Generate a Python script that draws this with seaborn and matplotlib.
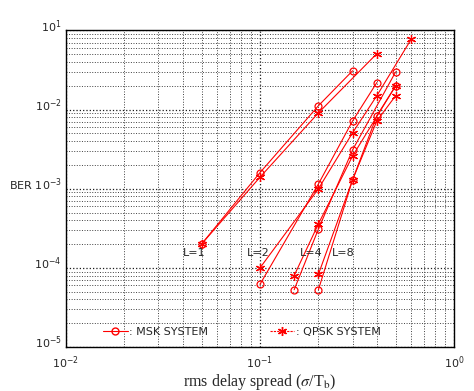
import numpy as np
import pandas as pd
import matplotlib
matplotlib.use("Agg")
import matplotlib.pyplot as plt
import matplotlib.transforms as mtransforms
from matplotlib.lines import Line2D
import seaborn as sns

# rms delay spread values and BER per curve
msk_L1_x = [0.05, 0.1, 0.2, 0.3]
msk_L1_y = [2.0e-4, 1.6e-3, 1.12e-2, 3.1e-2]
qpsk_L1_x = [0.05, 0.1, 0.2, 0.4]
qpsk_L1_y = [2.0e-4, 1.4e-3, 9.1e-3, 5.1e-2]

msk_L2_x = [0.1, 0.2, 0.3, 0.4]
msk_L2_y = [6.2e-5, 1.15e-3, 7.2e-3, 2.2e-2]
qpsk_L2_x = [0.1, 0.2, 0.3, 0.4, 0.6]
qpsk_L2_y = [1.0e-4, 1.0e-3, 5.1e-3, 1.5e-2, 7.7e-2]

msk_L4_x = [0.15, 0.2, 0.3, 0.5]
msk_L4_y = [5.3e-5, 3.1e-4, 3.1e-3, 3.0e-2]
qpsk_L4_x = [0.15, 0.2, 0.3, 0.5]
qpsk_L4_y = [8.0e-5, 3.6e-4, 2.6e-3, 2.0e-2]

msk_L8_x = [0.2, 0.3, 0.4, 0.5]
msk_L8_y = [5.3e-5, 1.3e-3, 8.4e-3, 2.0e-2]
qpsk_L8_x = [0.2, 0.3, 0.4, 0.5]
qpsk_L8_y = [8.3e-5, 1.3e-3, 7.2e-3, 1.5e-2]

curve_labels = ["L=1", "L=2", "L=4", "L=8"]
label_x = [0.046, 0.098, 0.183, 0.268]
label_y = [1.55e-4, 1.55e-4, 1.55e-4, 1.55e-4]

xtick_vals = [1e-2, 1e-1, 1e0]
xtick_text = [r"$10^{-2}$", r"$10^{-1}$", r"$10^{0}$"]
ytick_vals = [1e-5, 1e-4, 1e-3, 1e-2, 1e-1]
ytick_text = [r"$10^{-5}$", r"$10^{-4}$", r"BER $10^{-3}$", r"$10^{-2}$", r"$10^{1}$"]

rows = []
for name, sysname, xs, ys in [
    ("msk1", "MSK", msk_L1_x, msk_L1_y), ("qpsk1", "QPSK", qpsk_L1_x, qpsk_L1_y),
    ("msk2", "MSK", msk_L2_x, msk_L2_y), ("qpsk2", "QPSK", qpsk_L2_x, qpsk_L2_y),
    ("msk4", "MSK", msk_L4_x, msk_L4_y), ("qpsk4", "QPSK", qpsk_L4_x, qpsk_L4_y),
    ("msk8", "MSK", msk_L8_x, msk_L8_y), ("qpsk8", "QPSK", qpsk_L8_x, qpsk_L8_y),
]:
    for xv, yv in zip(xs, ys):
        rows.append({"curve": name, "system": sysname, "x": xv, "ber": yv})
df = pd.DataFrame(rows)

sns.set_style("white")
plt.rcParams['font.family'] = ['DejaVu Sans']
plt.rcParams['mathtext.fontset'] = 'dejavusans'

fig = plt.figure(figsize=(4.74, 3.91), dpi=100)
ax = fig.add_axes([0.139, 0.1125, 0.819, 0.8095])

star = (6, 2, 0)
for sysname, mk, ms in [("MSK", "o", 5), ("QPSK", star, 6.5)]:
    sub = df[df["system"] == sysname]
    sns.lineplot(data=sub, x="x", y="ber", units="curve", estimator=None,
                 color="red", marker=mk, markersize=ms, markerfacecolor="none",
                 markeredgecolor="red", markeredgewidth=0.9, linewidth=0.8,
                 sort=False, legend=False, ax=ax)

ax.set_xscale("log")
ax.set_yscale("log")
ax.set_xlim(1e-2, 1)
ax.set_ylim(1e-5, 1e-1)

ax.grid(True, which="major", ls=":", color="0.1", lw=0.9)
ax.grid(True, which="minor", ls=":", color="0.25", lw=0.7)
ax.set_axisbelow(True)

ax.set_xticks(xtick_vals)
ax.set_xticklabels(xtick_text, fontsize=8)
ax.set_yticks(ytick_vals)
ax.set_yticklabels(ytick_text, fontsize=8)
ax.tick_params(which="both", direction="in", length=0)
ax.tick_params(axis="x", pad=5)
ax.tick_params(axis="y", pad=3)

# y labels sit a little above their grid line, as in the original
shift = mtransforms.ScaledTranslation(0, 4 / 72, fig.dpi_scale_trans)
for lab in ax.get_yticklabels():
    lab.set_transform(lab.get_transform() + shift)

for sp in ax.spines.values():
    sp.set_color("black")
    sp.set_linewidth(1.0)

ax.set_xlabel(r"rms delay spread ($\sigma$/T$_{\mathrm{b}}$)", fontsize=11.5,
              family="Liberation Serif", math_fontfamily="stix", labelpad=1)
ax.set_ylabel("")

for t, lx, ly in zip(curve_labels, label_x, label_y):
    ax.text(lx, ly, t, fontsize=8, ha="center", va="center")

h_msk = Line2D([], [], color="red", lw=0.8, marker="o", ms=5, mfc="none", mec="red")
h_qpsk = Line2D([], [], color="red", lw=0.8, ls=(0, (2, 1)), marker=star, ms=6.5, mec="red")
leg1 = ax.legend([h_msk], [": MSK SYSTEM"], loc="lower left", bbox_to_anchor=(0.07, 0.0),
                 frameon=False, fontsize=8, handlelength=2.2, handletextpad=0.1)
ax.add_artist(leg1)
ax.legend([h_qpsk], [": QPSK SYSTEM"], loc="lower left", bbox_to_anchor=(0.5, 0.0),
          frameon=False, fontsize=8, handlelength=2.2, handletextpad=0.1)

fig.savefig("out.png", dpi=100)
